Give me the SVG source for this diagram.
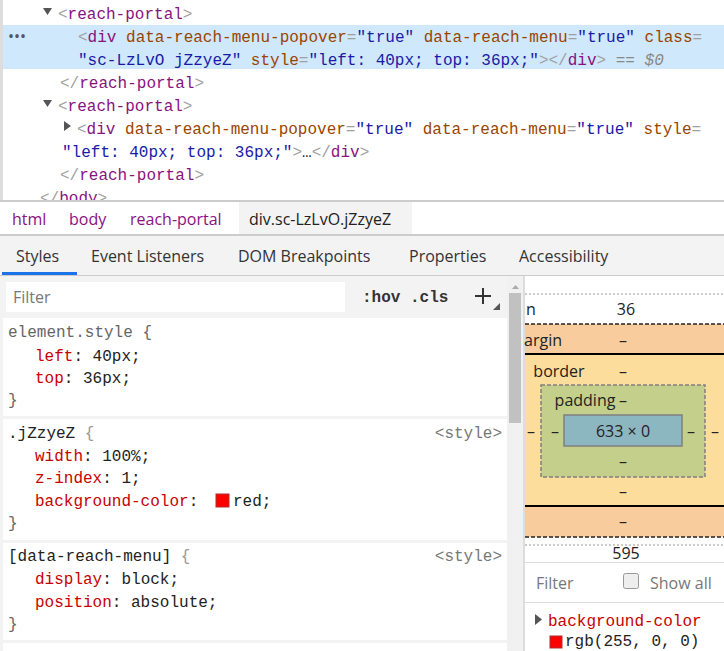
<svg xmlns="http://www.w3.org/2000/svg" width="724" height="651" viewBox="0 0 724 651">
<style>
.m{font-family:"Liberation Mono","DejaVu Sans Mono",monospace;font-size:16px}
.s{font-family:"Open Sans","Noto Sans","Liberation Sans",sans-serif;font-size:16px}
.tag{fill:#881280}.an{fill:#994500}.av{fill:#1a1aa6}.br{fill:#a0a0a0}
.pr{fill:#c80000}.tx{fill:#222}.gr{fill:#777}.dk{fill:#333}
</style>
<rect width="724" height="651" fill="#fff"/>
<g id="dom">
<rect x="0" y="0" width="3" height="200" fill="#ddd"/>
<rect x="3" y="25" width="721" height="44" fill="#cfe8fc"/>
<path d="M43 8h9l-4.5 7z M64 121v10l7-5z" fill="#555"/>
<text x="8" y="42" class="s" fill="#555" font-size="14">•••</text>
<text class="m" x="58" y="19"><tspan class="br">&lt;</tspan><tspan class="tag">reach-portal</tspan><tspan class="br">&gt;</tspan></text>
<text class="m" x="78" y="42"><tspan class="br">&lt;</tspan><tspan class="tag">div</tspan><tspan class="an"> data-reach-menu-popover</tspan><tspan class="br">=</tspan><tspan class="av">"true"</tspan><tspan class="an"> data-reach-menu</tspan><tspan class="br">=</tspan><tspan class="av">"true"</tspan><tspan class="an"> class</tspan><tspan class="br">=</tspan></text>
<text class="m" x="78" y="65"><tspan class="av">"sc-LzLvO jZzyeZ"</tspan><tspan class="an"> style</tspan><tspan class="br">=</tspan><tspan class="av">"left: 40px; top: 36px;"</tspan><tspan class="br">&gt;&lt;/</tspan><tspan class="tag">div</tspan><tspan class="br">&gt;</tspan><tspan fill="#888"> == </tspan><tspan fill="#888" font-style="italic">$0</tspan></text>
<text class="m" x="60" y="88"><tspan class="br">&lt;/</tspan><tspan class="tag">reach-portal</tspan><tspan class="br">&gt;</tspan></text>
<path d="M43 100h9l-4.5 7z" fill="#555"/>
<text class="m" x="58" y="111"><tspan class="br">&lt;</tspan><tspan class="tag">reach-portal</tspan><tspan class="br">&gt;</tspan></text>
<text class="m" x="77" y="134"><tspan class="br">&lt;</tspan><tspan class="tag">div</tspan><tspan class="an"> data-reach-menu-popover</tspan><tspan class="br">=</tspan><tspan class="av">"true"</tspan><tspan class="an"> data-reach-menu</tspan><tspan class="br">=</tspan><tspan class="av">"true"</tspan><tspan class="an"> style</tspan><tspan class="br">=</tspan></text>
<text class="m" x="62" y="157"><tspan class="av">"left: 40px; top: 36px;"</tspan><tspan class="br">&gt;</tspan><tspan class="tx">…</tspan><tspan class="br">&lt;/</tspan><tspan class="tag">div</tspan><tspan class="br">&gt;</tspan></text>
<text class="m" x="60" y="180"><tspan class="br">&lt;/</tspan><tspan class="tag">reach-portal</tspan><tspan class="br">&gt;</tspan></text>
<text class="m" x="40" y="203"><tspan class="br">&lt;/</tspan><tspan class="tag">body</tspan><tspan class="br">&gt;</tspan></text>
</g>
<g id="breadcrumb">
<rect x="0" y="200" width="724" height="36" fill="#fff"/>
<rect x="0" y="200" width="724" height="2" fill="#ccc"/>
<rect x="239" y="202" width="173" height="32" fill="#f3f3f3"/>
<rect x="0" y="234" width="724" height="2" fill="#ccc"/>
<text class="s" y="225"><tspan x="12" class="tag">html</tspan><tspan x="69" class="tag">body</tspan><tspan x="130" class="tag">reach-portal</tspan><tspan x="249" class="tx">div.sc-LzLvO.jZzyeZ</tspan></text>
</g>
<g id="tabs">
<rect x="0" y="236" width="724" height="40" fill="#f3f3f3"/>
<rect x="2" y="272" width="75" height="3" fill="#1a73e8"/>
<rect x="0" y="275" width="724" height="1" fill="#ccc"/>
<text class="s" y="262" fill="#333"><tspan x="16">Styles</tspan><tspan x="91">Event Listeners</tspan><tspan x="238">DOM Breakpoints</tspan><tspan x="409">Properties</tspan><tspan x="519">Accessibility</tspan></text>
</g>
<g id="styles">
<rect x="0" y="276" width="507" height="375" fill="#f3f3f3"/>
<rect x="6" y="282" width="339" height="30" fill="#fff"/>
<text class="s" x="13" y="303" fill="#777">Filter</text>
<text class="m" x="362" y="302" font-weight="bold" fill="#333">:hov  .cls</text>
<path d="M475 296h16M483 288v16" stroke="#333" stroke-width="2"/>
<path d="M493 310h7v-7z" fill="#555"/>
<rect x="3" y="318" width="504" height="98" fill="#fff"/>
<rect x="3" y="419" width="504" height="121" fill="#fff"/>
<rect x="3" y="543" width="504" height="97" fill="#fff"/>
<rect x="3" y="643" width="504" height="8" fill="#fff"/>
<text class="m" x="8" y="337" fill="#666">element.style {</text>
<text class="m" x="35" y="361"><tspan class="pr">left</tspan><tspan class="tx">: 40px;</tspan></text>
<text class="m" x="35" y="383"><tspan class="pr">top</tspan><tspan class="tx">: 36px;</tspan></text>
<text class="m" x="8" y="405" fill="#666">}</text>
<text class="m" x="8" y="438"><tspan class="tx">.jZzyeZ </tspan><tspan fill="#999">{</tspan></text>
<text class="m" x="502" y="438" text-anchor="end" fill="#777">&lt;style&gt;</text>
<text class="m" x="35" y="461"><tspan class="pr">width</tspan><tspan class="tx">: 100%;</tspan></text>
<text class="m" x="35" y="483"><tspan class="pr">z-index</tspan><tspan class="tx">: 1;</tspan></text>
<text class="m" x="35" y="506"><tspan class="pr">background-color</tspan><tspan class="tx">: </tspan></text>
<rect x="216" y="494" width="13" height="13" fill="#f00" stroke="#a33" stroke-width="1"/>
<text class="m" x="233" y="506" fill="#222">red;</text>
<text class="m" x="8" y="528" fill="#666">}</text>
<text class="m" x="8" y="561"><tspan class="tx">[data-reach-menu] </tspan><tspan fill="#999">{</tspan></text>
<text class="m" x="502" y="561" text-anchor="end" fill="#777">&lt;style&gt;</text>
<text class="m" x="35" y="584"><tspan class="pr">display</tspan><tspan class="tx">: block;</tspan></text>
<text class="m" x="35" y="607"><tspan class="pr">position</tspan><tspan class="tx">: absolute;</tspan></text>
<text class="m" x="8" y="629" fill="#666">}</text>
<rect x="507" y="276" width="16" height="375" fill="#f1f1f1"/>
<path d="M512 289h7l-3.5-4z" fill="#aaa"/>
<rect x="509" y="293" width="12" height="130" fill="#c1c1c1"/>
</g>
<g id="boxmodel">
<rect x="523" y="276" width="2" height="375" fill="#ddd"/>
<path d="M525 294H724M525 545H724" stroke="#999" stroke-dasharray="2,2"/>
<text class="s" x="526" y="315" font-size="14" fill="#222">n</text>
<text class="s" x="626" y="315" font-size="14" text-anchor="middle" fill="#222">36</text>
<rect x="525" y="324" width="200" height="213" fill="#f9cc9d"/>
<path d="M525 324H724M525 537H724" stroke="#222" stroke-dasharray="4,2" stroke-width="1.5"/>
<rect x="525" y="354" width="200" height="152" fill="#fddd9b"/>
<path d="M525 354H724M525 506H724" stroke="#000" stroke-width="2"/>
<rect x="541" y="385" width="164" height="92" fill="#c3cf8a" stroke="#808080" stroke-dasharray="4,2" stroke-width="1.5"/>
<rect x="564" y="415" width="118" height="31" fill="#8cb6c0" stroke="#808080" stroke-width="1.5"/>
<g class="s" font-size="14" fill="#222" text-anchor="middle">
<text x="543" y="346">argin</text>
<text x="623" y="346">–</text>
<text x="559" y="377">border</text>
<text x="623" y="377">–</text>
<text x="585" y="406">padding</text>
<text x="623" y="406">–</text>
<text x="623" y="437">633 × 0</text>
<text x="531" y="437">–</text><text x="555" y="437">–</text>
<text x="691" y="437">–</text><text x="715" y="437">–</text>
<text x="623" y="467">–</text>
<text x="623" y="497">–</text>
<text x="623" y="527">–</text>
<text x="626" y="559">595</text>
</g>
<rect x="525" y="562" width="199" height="1" fill="#ddd"/>
<text class="s" x="536" y="589" fill="#777">Filter</text>
<rect x="623.5" y="573.5" width="15" height="15" rx="2" fill="#eee" stroke="#999"/>
<text class="s" x="650" y="589" fill="#777">Show all</text>
<rect x="525" y="602" width="199" height="1" fill="#ddd"/>
<path d="M535 614v11l7-5.5z" fill="#555"/>
<text class="m" x="548" y="626" fill="#c80000">background-color</text>
<rect x="550" y="636" width="12" height="12" fill="#f00" stroke="#a33"/>
<text class="m" x="565" y="646" fill="#222">rgb(255, 0, 0)</text>
</g>
</svg>
